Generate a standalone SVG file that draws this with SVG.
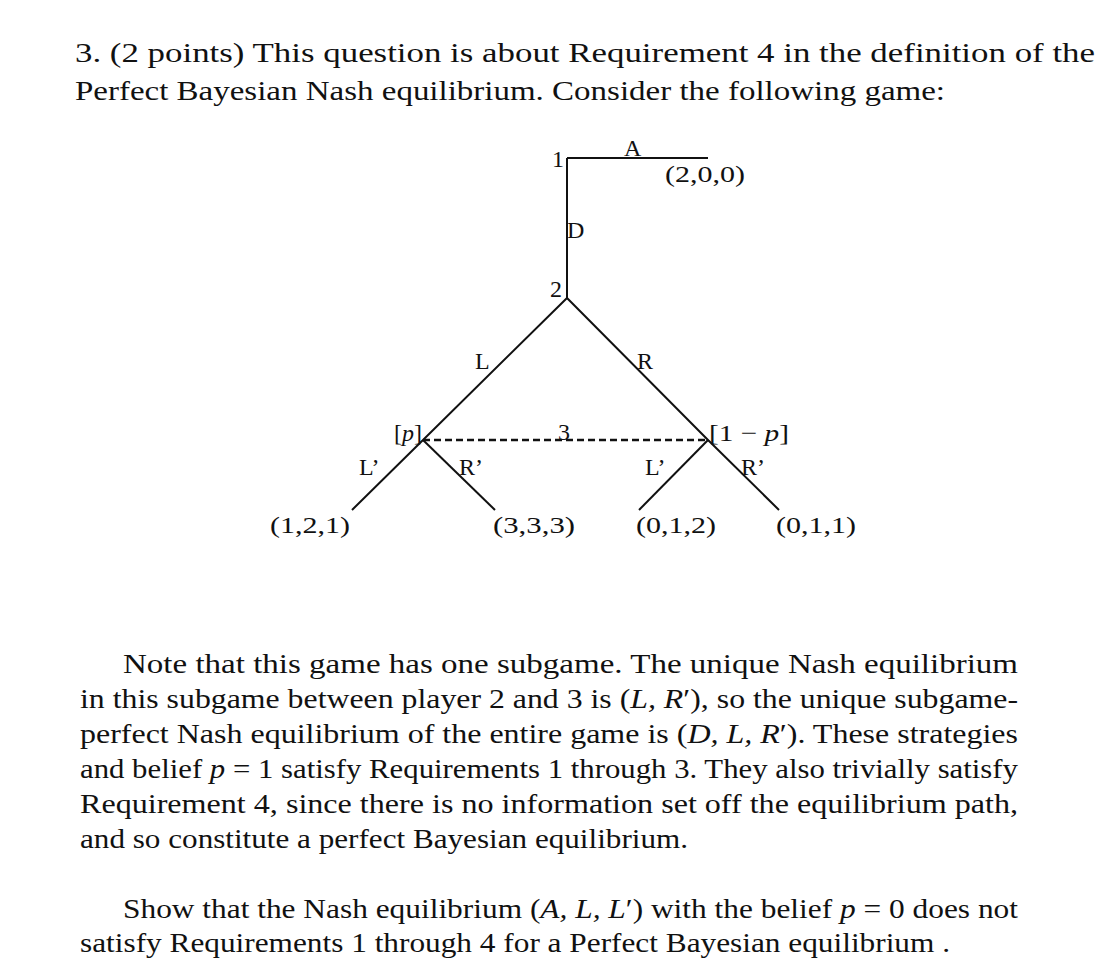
<svg xmlns="http://www.w3.org/2000/svg" width="1110" height="980" viewBox="0 0 1110 980">
<style>
text{font-family:"Liberation Serif","DejaVu Serif",serif;fill:#111}
.b{font-size:28px}
.d{font-size:24px}
.i{font-style:italic}
.e{stroke:#111;stroke-width:2;fill:none}
</style>
<rect width="1110" height="980" fill="#fff"/>
<g id="title">
<text class="b" x="75" y="62" textLength="1020" lengthAdjust="spacingAndGlyphs">3. (2 points) This question is about Requirement 4 in the definition of the</text>
<text class="b" x="75" y="100" textLength="870" lengthAdjust="spacingAndGlyphs">Perfect Bayesian Nash equilibrium. Consider the following game:</text>
</g>
<g id="connectors">
<path class="e" d="M567,158 H708"/>
<path class="e" d="M567,158 V298"/>
<path class="e" d="M567,298 L423,440 L352,510"/>
<path class="e" d="M423,440 L495,510"/>
<path class="e" d="M567,298 L708,440 L779,510"/>
<path class="e" d="M708,440 L639,510"/>
<path d="M423,440 H708" stroke="#111" stroke-width="2.5" stroke-dasharray="7,4" fill="none"/>
</g>
<g id="node1"><text class="d" x="552" y="167">1</text></g>
<g id="labelA"><text class="d" x="624" y="156">A</text></g>
<g id="leafA"><text class="d" x="665" y="182" textLength="80" lengthAdjust="spacingAndGlyphs">(2,0,0)</text></g>
<g id="labelD"><text class="d" x="567" y="238">D</text></g>
<g id="node2"><text class="d" x="550" y="297">2</text></g>
<g id="labelL"><text class="d" x="475" y="369">L</text></g>
<g id="labelR"><text class="d" x="637" y="369">R</text></g>
<g id="node3"><text class="d" x="558" y="440">3</text></g>
<g id="beliefp"><text class="d" x="394" y="441">[<tspan class="i">p</tspan>]</text></g>
<g id="belief1p"><text class="d" x="709" y="441" textLength="80" lengthAdjust="spacingAndGlyphs">[1 − <tspan class="i">p</tspan>]</text></g>
<g id="lL"><text class="d" x="359" y="475">L’</text></g>
<g id="lR"><text class="d" x="459" y="475">R’</text></g>
<g id="rL"><text class="d" x="645" y="475">L’</text></g>
<g id="rR"><text class="d" x="741" y="475">R’</text></g>
<g id="leaf1"><text class="d" x="270" y="533" textLength="80" lengthAdjust="spacingAndGlyphs">(1,2,1)</text></g>
<g id="leaf2"><text class="d" x="493" y="533" textLength="82" lengthAdjust="spacingAndGlyphs">(3,3,3)</text></g>
<g id="leaf3"><text class="d" x="636" y="533" textLength="80" lengthAdjust="spacingAndGlyphs">(0,1,2)</text></g>
<g id="leaf4"><text class="d" x="776" y="533" textLength="80" lengthAdjust="spacingAndGlyphs">(0,1,1)</text></g>
<g id="para1">
<text class="b" x="123" y="673" textLength="895" lengthAdjust="spacingAndGlyphs">Note that this game has one subgame.  The unique Nash equilibrium</text>
<text class="b" x="80" y="708" textLength="938" lengthAdjust="spacingAndGlyphs">in this subgame between player 2 and 3 is (<tspan class="i">L, R</tspan>′), so the unique subgame-</text>
<text class="b" x="80" y="743" textLength="938" lengthAdjust="spacingAndGlyphs">perfect Nash equilibrium of the entire game is (<tspan class="i">D, L, R</tspan>′).  These strategies</text>
<text class="b" x="80" y="778" textLength="938" lengthAdjust="spacingAndGlyphs">and belief <tspan class="i">p</tspan> = 1 satisfy Requirements 1 through 3. They also trivially satisfy</text>
<text class="b" x="80" y="813" textLength="938" lengthAdjust="spacingAndGlyphs">Requirement 4, since there is no information set off the equilibrium path,</text>
<text class="b" x="80" y="848" textLength="608" lengthAdjust="spacingAndGlyphs">and so constitute a perfect Bayesian equilibrium.</text>
</g>
<g id="para2">
<text class="b" x="123" y="918" textLength="895" lengthAdjust="spacingAndGlyphs">Show that the Nash equilibrium (<tspan class="i">A, L, L</tspan>′) with the belief <tspan class="i">p</tspan> = 0 does not</text>
<text class="b" x="80" y="952" textLength="870" lengthAdjust="spacingAndGlyphs">satisfy Requirements 1 through 4 for a Perfect Bayesian equilibrium .</text>
</g>
</svg>
